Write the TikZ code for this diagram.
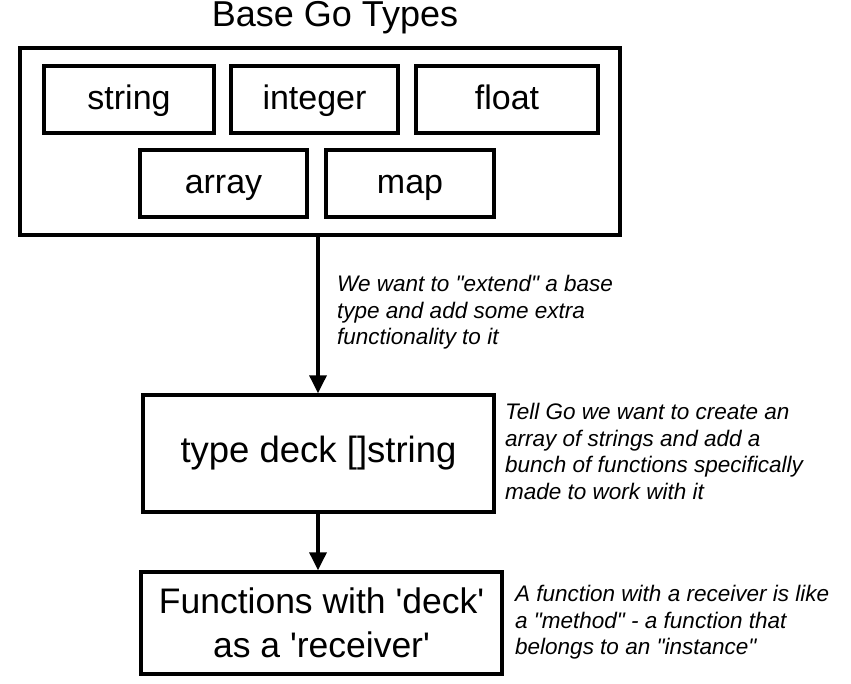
\documentclass[tikz,border=0pt]{standalone}
\usepackage{fontspec}
\setmainfont{Liberation Sans}[Ligatures=TeXOff]
\usetikzlibrary{arrows.meta}
\begin{document}
\begin{tikzpicture}[x=1pt,y=-1pt,
  box/.style={draw,line width=3.4pt,inner sep=0pt},
  note/.style={anchor=north west,align=left,font=\fontsize{22.5}{26.5}\selectfont\itshape,inner sep=0pt},
  arr/.style={line width=3.4pt,-{Triangle[length=18pt,width=17pt]}}]
\useasboundingbox (0,0) rectangle (851,684);
\node (title) at (335,18) {\fontsize{36}{38}\selectfont Base Go Types};
\node[box,minimum width=600pt,minimum height=187pt] (outer) at (320,141.5) {};
\tikzset{tb/.style={box,minimum height=67pt,text height=25pt,text depth=5pt,font=\fontsize{34}{36}\selectfont}}
\node[tb,minimum width=170pt] (s) at (129,99.5) {string};
\node[tb,minimum width=167pt] (i) at (314.5,99.5) {integer};
\node[tb,minimum width=182pt] (f) at (507,99.5) {float};
\node[tb,minimum width=167pt] (a) at (223.5,183.5) {array};
\node[tb,minimum width=168pt] (m) at (410,183.5) {map};
\node[box,minimum width=351pt,minimum height=117pt,font=\fontsize{36.5}{38}\selectfont] (deck) at (318.5,453.5) {type deck []string};
\node[box,minimum width=361pt,minimum height=102pt,align=center,font=\fontsize{35.5}{44}\selectfont] (fn) at (321.5,623) {Functions with 'deck'\\as a 'receiver'};
\coordinate (o) at (318,235);
\draw[arr] (o) -- (deck.north -| o);
\draw[arr] (deck.south -| o) -- (fn.north -| o);
\node[note] (n1) at (337,275) {We want to "extend" a base\\type and add some extra\\functionality to it};
\node[note] (n2) at (505,403) {Tell Go we want to create an\\array of strings and add a\\bunch of functions specifically\\made to work with it};
\node[note] (n3) at (515,585) {A function with a receiver is like\\a "method" - a function that\\belongs to an "instance"};
\end{tikzpicture}
\end{document}
